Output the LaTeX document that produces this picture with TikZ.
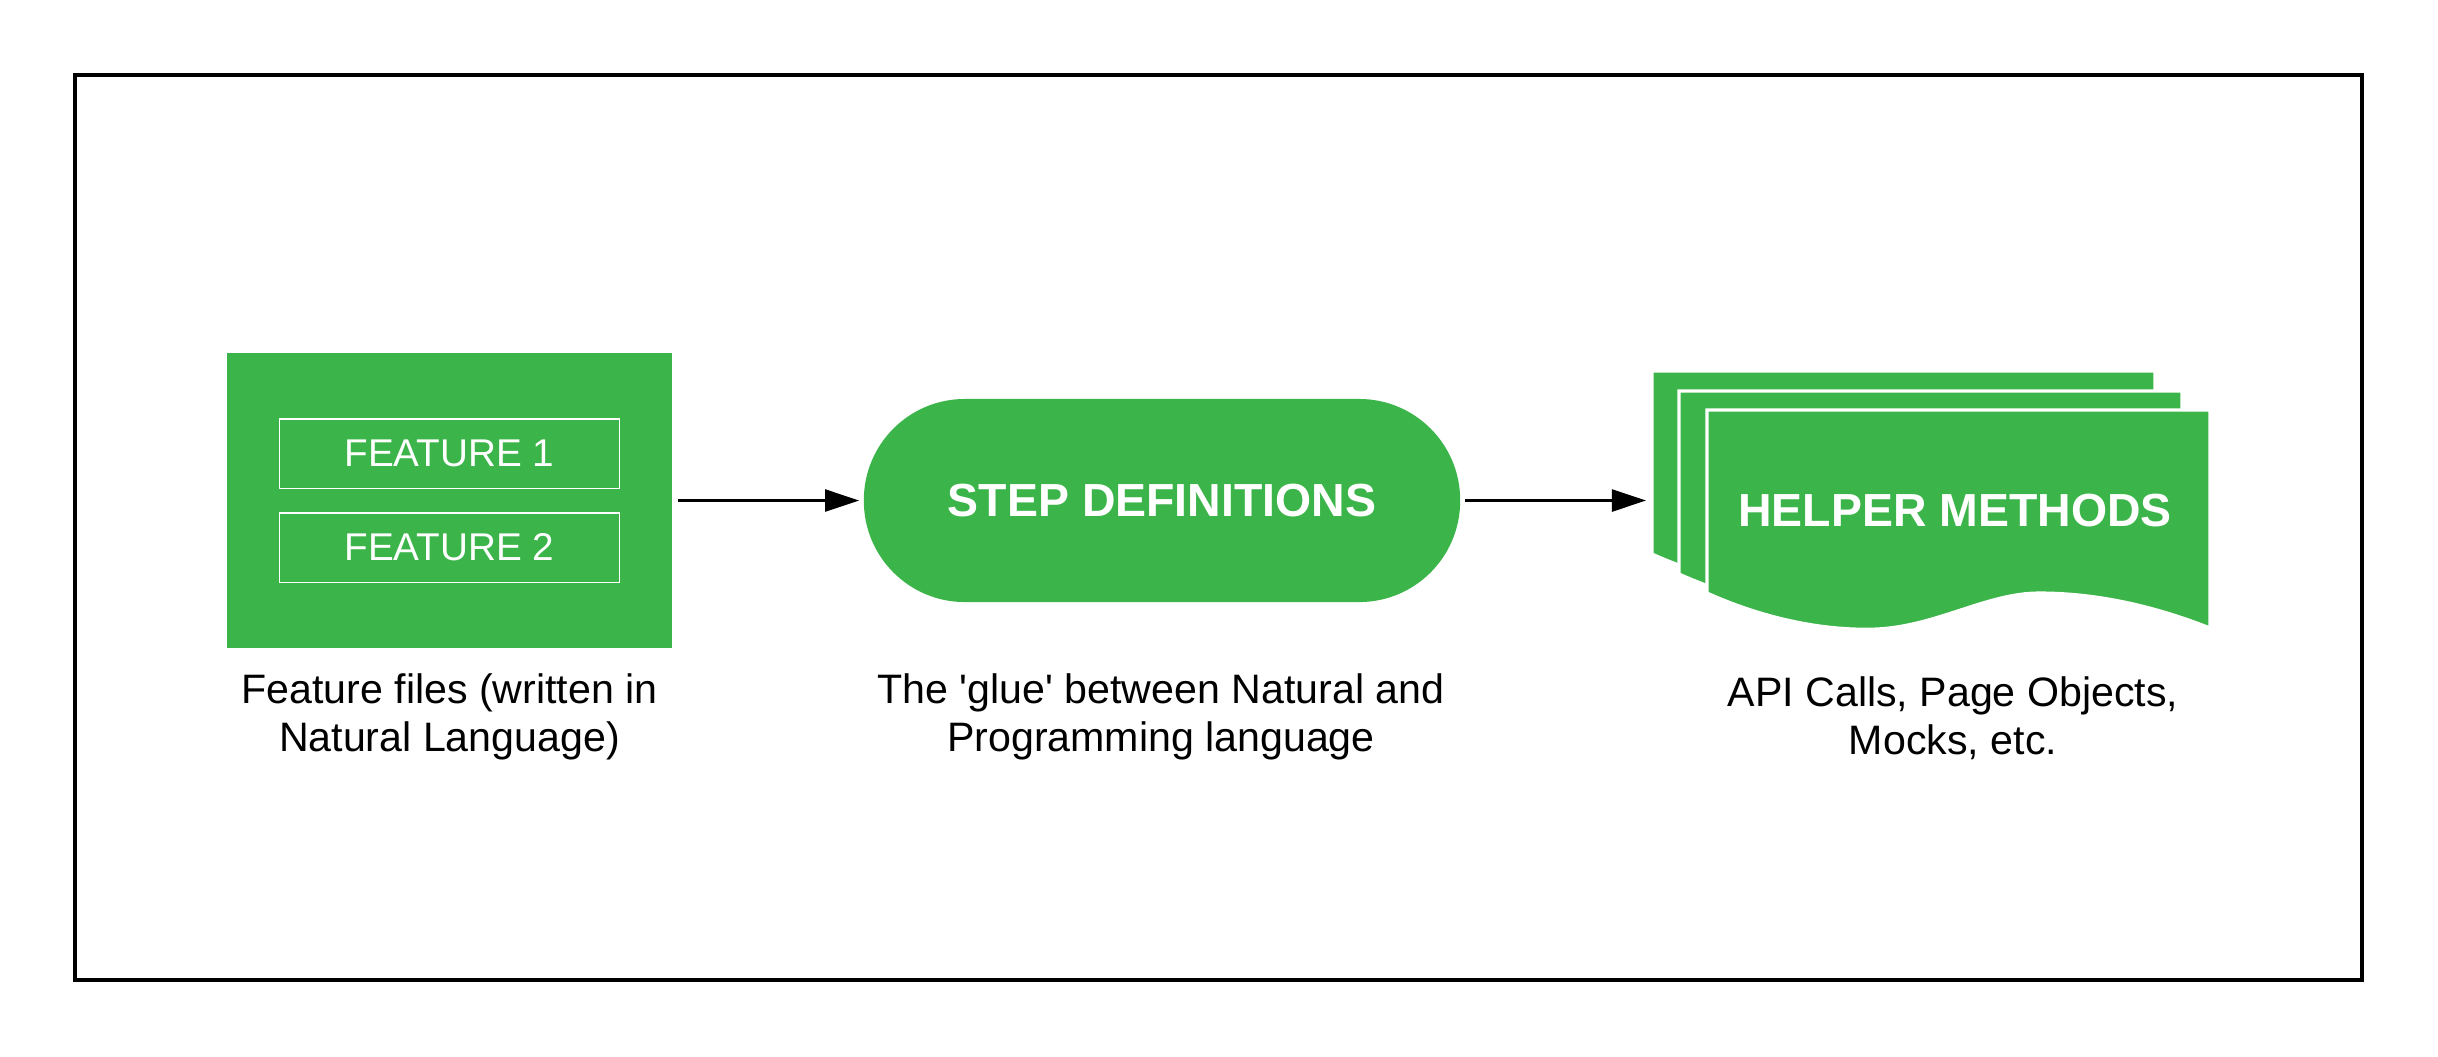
\documentclass[tikz,border=0pt]{standalone}
\usepackage{fontspec}
\setmainfont{Liberation Sans}[Ligatures=TeXOff]
\definecolor{leafgreen}{HTML}{3BB54A}
\usetikzlibrary{arrows.meta}

\begin{document}
\begin{tikzpicture}[x=0.01cm, y=-0.01cm,
  box/.style={fill=leafgreen, text=white, inner sep=0pt},
  feat/.style={draw=white, line width=0.3pt, minimum width=3.39cm, minimum height=0.69cm, inner sep=0pt, text=white, font=\fontsize{11}{13}\selectfont},
  subtext/.style={align=center, anchor=north, inner sep=0pt, font=\fontsize{11.7}{13.7}\selectfont},
  title/.style={text=white, inner sep=0pt, font=\bfseries\fontsize{13.2}{15}\selectfont},
  flow/.style={-{Triangle[length=0.34cm,width=0.22cm]}, line width=0.65pt},
  docsheet/.pic={
    \path[fill=leafgreen, draw=white, line width=0.9pt] (0,0) -- (503,0) -- (503,218)
      .. controls (460,201) and (400,183) .. (332,183)
      .. controls (280,183) and (230,216) .. (170,219)
      .. controls (120,221) and (60,210) .. (0,183) -- cycle;
  }]
\useasboundingbox (0,0) rectangle (2438,1056);
% outer frame
\draw[line width=1.05pt] (75,75) rectangle (2362,980);

% Feature files
\node[box, minimum width=4.45cm, minimum height=2.95cm] (feature) at (449.5,500.5) {};
\node[feat] (feat1) at (449.5,453.5) {FEATURE 1};
\node[feat] (feat2) at (449.5,547.5) {FEATURE 2};
\node[subtext] (featuretxt) at (449.5,673) {Feature files (written in\\Natural Language)};

% Step definitions
\node[box, title, rounded corners=1.01cm, minimum width=5.96cm, minimum height=2.03cm] (step) at (1162,500.5) {STEP DEFINITIONS};
\node[subtext] (steptxt) at (1161,673) {The 'glue' between Natural and\\Programming language};

% Helper methods (stack of sheets)
\pic at (1652,371) {docsheet};
\pic at (1679,391) {docsheet};
\pic at (1707,410) {docsheet};
\node[title] (helper) at (1955,510.5) {HELPER METHODS};
\coordinate (stack) at (1652,500.5);
\node[subtext] (helpertxt) at (1953,676) {API Calls, Page Objects,\\Mocks, etc.};

% Arrows
\draw[flow, shorten <=0.05cm, shorten >=0.04cm] (feature.east) -- (step.west);
\draw[flow, shorten <=0.04cm, shorten >=0.06cm] (step.east) -- (stack);
\end{tikzpicture}
\end{document}
